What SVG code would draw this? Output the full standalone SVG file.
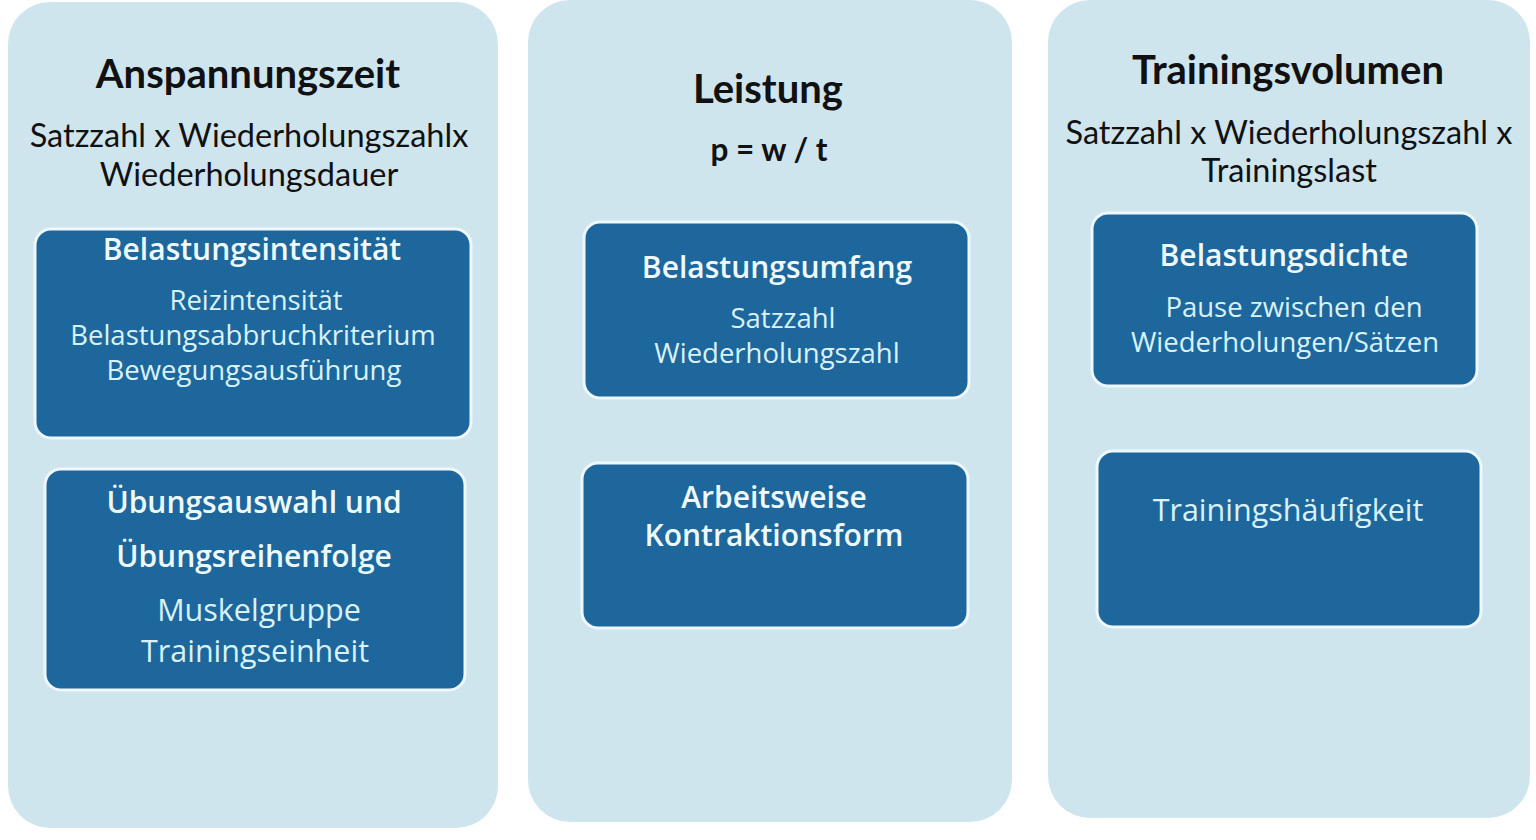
<svg xmlns="http://www.w3.org/2000/svg" width="1536" height="840" viewBox="0 0 1536 840">
<defs>
<style>
.panel{fill:#cfe5ee}
.box{fill:#1e679d;stroke:#eef8fb;stroke-width:3}
.h{font-family:Lato,"Liberation Sans",sans-serif;font-weight:700;font-size:40px;fill:#111;text-anchor:middle}
.f{font-family:Lato,"Liberation Sans",sans-serif;font-weight:400;font-size:32.5px;fill:#111;text-anchor:middle}
.fb{font-family:Lato,"Liberation Sans",sans-serif;font-weight:700;font-size:31.5px;fill:#111;text-anchor:middle}
.bt{font-family:"Open Sans","Liberation Sans",sans-serif;font-weight:600;font-size:30px;fill:#eef9fc;text-anchor:middle}
.bl{font-family:"Open Sans","Liberation Sans",sans-serif;font-weight:400;font-size:27.5px;fill:#d8f2f8;text-anchor:middle}
</style>
</defs>
<rect width="1536" height="840" fill="#ffffff"/>
<g id="panel-anspannungszeit">
<rect class="panel" x="8" y="2" width="490" height="826" rx="42"/>
<text class="h" x="248" y="88">Anspannungszeit</text>
<text class="f" x="249" y="147">Satzzahl x Wiederholungszahlx</text>
<text class="f" x="249" y="186">Wiederholungsdauer</text>
</g>
<g id="node-belastungsintensitaet">
<rect class="box" x="35" y="229" width="436" height="209" rx="16"/>
<text class="bt" x="252" y="260">Belastungsintensität</text>
<text class="bl" x="256" y="310">Reizintensität</text>
<text class="bl" x="253" y="345">Belastungsabbruchkriterium</text>
<text class="bl" x="254" y="380">Bewegungsausführung</text>
</g>
<g id="node-uebungsauswahl">
<rect class="box" x="45" y="469" width="420" height="221" rx="16"/>
<text class="bt" x="254" y="513">Übungsauswahl und</text>
<text class="bt" x="254" y="567">Übungsreihenfolge</text>
<text class="bl" x="259" y="621" style="font-size:30.5px">Muskelgruppe</text>
<text class="bl" x="255" y="662" style="font-size:30.5px">Trainingseinheit</text>
</g>
<g id="panel-leistung">
<rect class="panel" x="528" y="0" width="484" height="822" rx="42"/>
<text class="h" x="768" y="103">Leistung</text>
<text class="fb" x="769" y="161">p = w / t</text>
</g>
<g id="node-belastungsumfang">
<rect class="box" x="584" y="222" width="385" height="176" rx="16"/>
<text class="bt" x="777" y="278">Belastungsumfang</text>
<text class="bl" x="783" y="328">Satzzahl</text>
<text class="bl" x="777" y="363">Wiederholungszahl</text>
</g>
<g id="node-arbeitsweise">
<rect class="box" x="582" y="463" width="386" height="165" rx="16"/>
<text class="bt" x="774" y="508">Arbeitsweise</text>
<text class="bt" x="774" y="546">Kontraktionsform</text>
</g>
<g id="panel-trainingsvolumen">
<rect class="panel" x="1048" y="0" width="482" height="818" rx="42"/>
<text class="h" x="1288" y="84">Trainingsvolumen</text>
<text class="f" x="1289" y="144">Satzzahl x Wiederholungszahl x</text>
<text class="f" x="1289" y="182">Trainingslast</text>
</g>
<g id="node-belastungsdichte">
<rect class="box" x="1092" y="213" width="385" height="173" rx="16"/>
<text class="bt" x="1284" y="266">Belastungsdichte</text>
<text class="bl" x="1294" y="317">Pause zwischen den</text>
<text class="bl" x="1285" y="352">Wiederholungen/Sätzen</text>
</g>
<g id="node-trainingshaeufigkeit">
<rect class="box" x="1097" y="451" width="384" height="176" rx="16"/>
<text class="bl" x="1288" y="521" style="font-size:30.5px">Trainingshäufigkeit</text>
</g>
<g id="connectors"></g>
</svg>
